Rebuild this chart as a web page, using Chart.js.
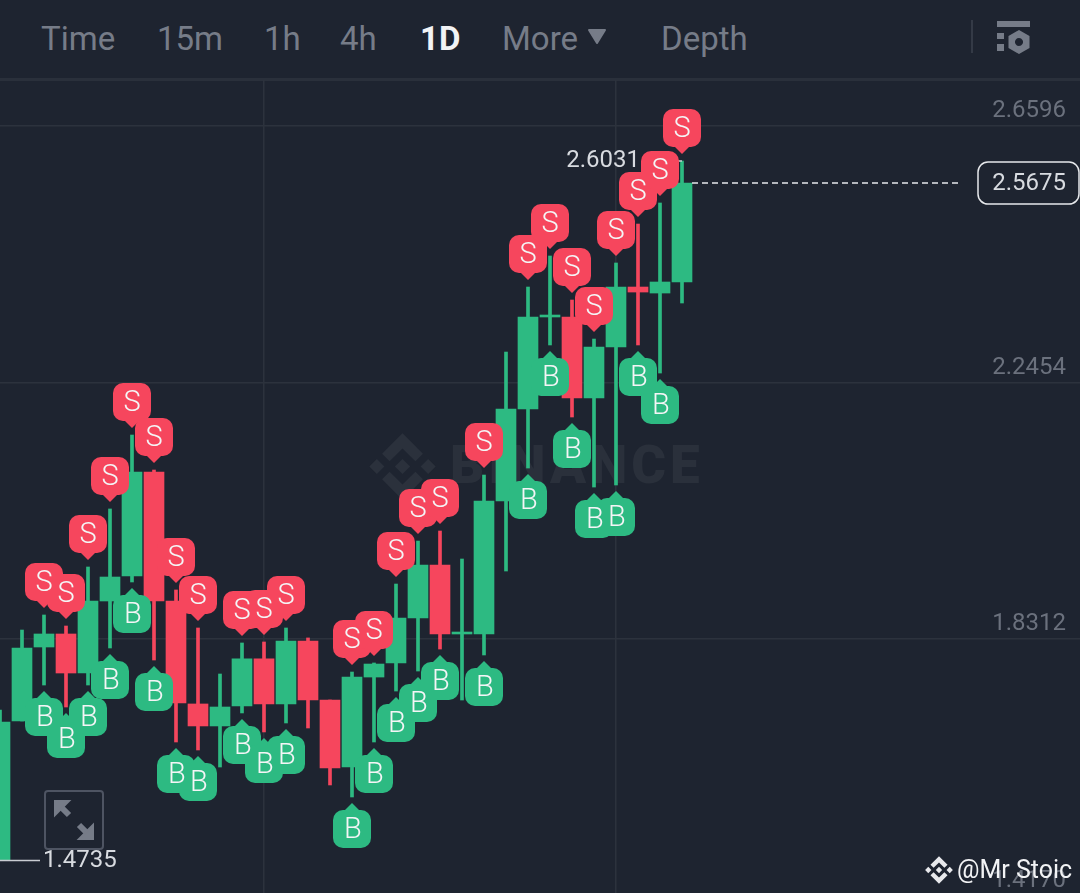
<!DOCTYPE html>
<html>
<head>
<meta charset="utf-8">
<title>1D chart</title>
<script src="https://cdn.jsdelivr.net/npm/chart.js@4/dist/chart.umd.min.js"></script>
<style>
  html, body { margin:0; padding:0; width:1080px; height:893px; overflow:hidden; background:#1e2430; font-family:Roboto, sans-serif; }
  .tab { position:absolute; top:20px; line-height:38px; font-size:33px; color:#767c88; white-space:nowrap; }
  .tab.active { color:#f2f3f5; font-weight:700; }
  #headerLine { position:absolute; left:0; top:78px; width:1080px; height:3px; background:#2a303b; }
  #divider { position:absolute; left:971px; top:20px; width:2px; height:33px; background:#343a46; }
  #wmLogo { position:absolute; left:369px; top:433px; width:67px; height:67px; fill:#2b313c; }
  #wmText { position:absolute; left:450px; top:435px; font-size:53px; line-height:60px; font-weight:900; letter-spacing:4px; color:#2a303b; }
  #chartBox { position:absolute; left:0; top:80px; width:1100px; height:830px; }
  #expand { position:absolute; left:44px; top:790px; width:60px; height:60px; box-sizing:border-box; border:2px solid #4e5462; border-radius:4px; }
  #credit { position:absolute; left:957px; top:855px; font-size:25px; line-height:30px; color:#f2f3f5; white-space:nowrap; }
  #creditLogo { position:absolute; left:925px; top:856px; width:28px; height:28px; fill:#e8e9ec; }
</style>
</head>
<body>
<span class="tab" style="left:41px">Time</span>
<span class="tab" style="left:157px">15m</span>
<span class="tab" style="left:264px">1h</span>
<span class="tab" style="left:340px">4h</span>
<span class="tab active" style="left:420px">1D</span>
<span class="tab" style="left:502px">More</span>
<svg style="position:absolute;left:586px;top:28px" width="22" height="17"><path d="M3 2h16l-8 13z" fill="#767c88" stroke="#767c88" stroke-linejoin="round" stroke-width="2"/></svg>
<span class="tab" style="left:661px">Depth</span>
<div id="divider"></div>
<svg style="position:absolute;left:996px;top:20px" width="36" height="34" fill="#767c88">
  <rect x="1" y="1" width="33" height="6"/>
  <rect x="1" y="13" width="7" height="6"/>
  <rect x="1" y="24" width="7" height="7"/>
  <path fill-rule="evenodd" d="M23 10l10.500 6v12l-10.500 6-10.500-6v-12zM23 18a4 4 0 1 0 .01 0z"/>
</svg>
<div id="headerLine"></div>

<svg viewBox="0 0 126 126" id="wmLogo"><use href="#binanceMark"/></svg>
<div id="wmText">BINANCE</div>

<div id="chartBox"><canvas id="klineChart" width="1100" height="830"></canvas></div>

<div id="expand">
  <svg width="56" height="56" fill="none" stroke="#767c88" stroke-width="6">
    <path d="M11 11l12 12"/><path d="M9 23v-14h14z" fill="#767c88" stroke-width="2"/>
    <path d="M45 45l-12-12"/><path d="M47 33v14h-14z" fill="#767c88" stroke-width="2"/>
  </svg>
</div>

<svg viewBox="0 0 126 126" id="creditLogo"><use href="#binanceMark"/></svg>
<div id="credit">@Mr Stoic</div>

<svg width="0" height="0" style="position:absolute"><defs><g id="binanceMark">
  <path d="M38.73 53.2L63 28.94l24.28 24.28 14.12-14.12L63 .7 24.6 39.1z"/>
  <path d="M.7 63l14.12-14.12L28.94 63 14.82 77.12z"/>
  <path d="M38.73 72.8L63 97.06l24.28-24.27 14.13 14.11L63 125.3 24.6 86.9z"/>
  <path d="M97.06 63l14.12-14.12L125.3 63l-14.12 14.12z"/>
  <path d="M77.32 63L63 48.67 48.68 63 63 77.32z"/>
</g></defs></svg>

<script>
// candles, one entry per day
const candleOpen  = [1.4735,1.6988,1.8183,1.8393,1.7763,1.8926,1.9330,2.1009,1.8926,1.7263,1.6908,1.7231,1.7990,1.7263,1.8280,1.7327,1.6245,1.7698,1.7925,1.8651,1.9507,1.8393,1.8393,2.0540,2.2026,2.3512,2.3512,2.2204,2.3027,2.3996,2.3899,2.4077];
const candleClose = [1.6972,1.8167,1.8393,1.7763,1.8926,1.9313,2.1009,1.8926,1.7279,1.6908,1.7214,1.7990,1.7263,1.8280,1.7327,1.6229,1.7698,1.7908,1.8651,1.9507,1.8393,1.8425,2.0540,2.2026,2.3512,2.3544,2.2204,2.3027,2.3996,2.3915,2.4077,2.5675];
const candleHigh  = [1.7165,1.8457,1.8700,1.8522,1.9475,2.0412,2.1606,2.1041,1.9104,1.8490,1.7747,1.8248,1.8264,1.8490,1.8329,1.7327,1.7779,1.7925,1.9200,1.9894,2.0056,1.9604,2.0960,2.2946,2.3996,2.4497,2.3786,2.3156,2.4384,2.5013,2.5353,2.6031];
const candleLow   = [1.4735,1.6988,1.7569,1.7214,1.7569,1.8167,1.9233,1.7973,1.6649,1.6520,1.6245,1.7118,1.6811,1.6956,1.6875,1.5955,1.5761,1.6649,1.7472,1.7795,1.8150,1.7327,1.8054,1.9410,2.1073,2.3060,2.1897,2.0766,2.0799,2.3060,2.2607,2.3738];

// days that carry a sell / buy badge
const sellDays = [2,3,4,5,6,7,8,9,11,12,13,16,17,18,19,20,22,24,25,26,27,28,29,30,31];
const buyDays  = [2,3,4,5,6,7,8,9,11,12,13,16,17,18,19,20,22,24,25,26,27,28,29,30];

const dayLabels = Array.from({length:51}, (_, i) => i);
const priceTicks = [2.6596, 2.2454, 1.8312, 1.4170];
const gridDays = [12, 28];
const lastPrice = 2.5675;
const highLabel = 2.6031;
const lowLabel = 1.4735;

const GREEN = '#2dba82', RED = '#f6465d', BG = '#1e2430', GRID = '#2c323d';
const candleColors = candleOpen.map((o, i) => candleClose[i] >= o ? GREEN : RED);

function drawBadge(ctx, x, y, up) {
  // up: pointer on top of the badge (buy), else at the bottom (sell)
  const w = 38, h = 38, r = 10;
  const top = up ? y + 13 : y - 52;
  const left = x - w / 2;
  ctx.fillStyle = up ? GREEN : RED;
  ctx.beginPath();
  ctx.roundRect(left, top, w, h, r);
  ctx.fill();
  ctx.beginPath();
  if (up) {
    ctx.moveTo(x - 9, top + 2); ctx.lineTo(x, y + 6); ctx.lineTo(x + 9, top + 2);
  } else {
    ctx.moveTo(x - 9, top + h - 2); ctx.lineTo(x, y - 7); ctx.lineTo(x + 9, top + h - 2);
  }
  ctx.closePath();
  ctx.fill();
}

function drawBadgeLetter(ctx, x, y, up, letter) {
  const top = up ? y + 13 : y - 52;
  ctx.fillStyle = '#f4f5f6';
  ctx.font = '300 29px Roboto';
  ctx.textAlign = 'center';
  ctx.textBaseline = 'middle';
  ctx.fillText(letter, up ? x + 1 : x, top + 21);
}

const overlayPlugin = {
  id: 'overlay',
  afterDatasetsDraw(chart) {
    const ctx = chart.ctx, y = chart.scales.y, x = chart.scales.x;
    ctx.save();

    // high / low call-outs
    const yHigh = y.getPixelForValue(highLabel), yLow = y.getPixelForValue(lowLabel);
    ctx.strokeStyle = '#c9ccd2';
    ctx.lineWidth = 1.5;
    ctx.beginPath();
    ctx.moveTo(644, yHigh); ctx.lineTo(x.getPixelForValue(31), yHigh);
    ctx.moveTo(0, yLow); ctx.lineTo(40, yLow);
    ctx.stroke();
    ctx.fillStyle = '#d8dbe0';
    ctx.font = '24px Roboto';
    ctx.textBaseline = 'middle';
    ctx.textAlign = 'right';
    ctx.fillText(highLabel.toFixed(4), 640, yHigh);
    ctx.textAlign = 'left';
    ctx.fillText(lowLabel.toFixed(4), 43, yLow);

    // last price line and tag
    const yLast = y.getPixelForValue(lastPrice);
    ctx.setLineDash([6, 4]);
    ctx.strokeStyle = '#e6e8eb';
    ctx.lineWidth = 1.5;
    ctx.beginPath();
    ctx.moveTo(x.getPixelForValue(31) + 10, yLast);
    ctx.lineTo(962, yLast);
    ctx.stroke();
    ctx.setLineDash([]);
    ctx.fillStyle = BG;
    ctx.beginPath();
    ctx.roundRect(978, yLast - 21, 101, 42, 10);
    ctx.fill();
    ctx.stroke();
    ctx.fillStyle = '#d8dbe0';
    ctx.textAlign = 'right';
    ctx.fillText(lastPrice.toFixed(4), 1066, yLast + 1);

    // badges follow the invisible marker datasets, letters go on top of every shape
    const badgeMetas = chart.data.datasets.map((ds, i) => ({ ds, meta: chart.getDatasetMeta(i) })).filter(b => b.ds.badge);
    badgeMetas.forEach(({ ds, meta }) => meta.data.forEach(pt => {
      if (!pt.skip) drawBadge(ctx, pt.x, pt.y, ds.badge === 'B');
    }));
    badgeMetas.forEach(({ ds, meta }) => meta.data.forEach(pt => {
      if (!pt.skip) drawBadgeLetter(ctx, pt.x, pt.y, ds.badge === 'B', ds.badge);
    }));
    ctx.restore();
  }
};

new Chart(document.getElementById('klineChart'), {
  data: {
    labels: dayLabels,
    datasets: [
      { type:'bar', data: candleLow.map((l, i) => [l, candleHigh[i]]), backgroundColor: candleColors, barThickness:3, borderWidth:0, grouped:false, order:2 },
      { type:'bar', data: candleOpen.map((o, i) => [o, candleClose[i]]), backgroundColor: candleColors, barThickness:20, borderWidth:0, grouped:false, order:1 },
      { type:'line', badge:'S', showLine:false, pointRadius:0, data: dayLabels.map(d => sellDays.includes(d) ? candleHigh[d] : null) },
      { type:'line', badge:'B', showLine:false, pointRadius:0, data: dayLabels.map(d => buyDays.includes(d) ? candleLow[d] : null) }
    ]
  },
  options: {
    responsive:false,
    animation:false,
    events:[],
    layout:{ padding:0 },
    plugins:{ legend:{ display:false }, tooltip:{ enabled:false } },
    scales:{
      x:{
        type:'category',
        offset:false,
        border:{ display:false },
        grid:{ color:GRID, lineWidth:1.5, offset:false, drawTicks:false },
        ticks:{ display:false },
        afterBuildTicks: axis => { axis.ticks = gridDays.map(value => ({ value })); }
      },
      y:{
        position:'right',
        min:1.3936,
        max:2.7339,
        border:{ display:false },
        grid:{ color:GRID, lineWidth:1.5, drawTicks:false },
        ticks:{
          mirror:true,
          padding:-34,
          labelOffset:-15,
          color:'#6b717d',
          font:{ family:'Roboto', size:24 },
          callback: v => v.toFixed(4)
        },
        afterBuildTicks: axis => { axis.ticks = priceTicks.map(value => ({ value })); },
        // mirrored labels must not take room from the plot
        afterFit: axis => { axis.width = 0; axis.paddingTop = 0; axis.paddingBottom = 0; }
      }
    }
  },
  plugins:[overlayPlugin]
});
</script>
</body>
</html>
